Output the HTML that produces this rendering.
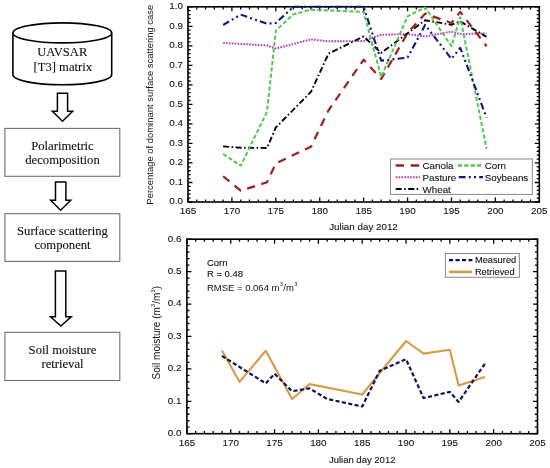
<!DOCTYPE html>
<html><head><meta charset="utf-8"><title>Figure</title>
<style>html,body{margin:0;padding:0;background:#fff;}body{width:550px;height:468px;overflow:hidden;}svg{display:block;will-change:transform;}</style>
</head><body>
<svg width="550" height="468" viewBox="0 0 550 468">
<rect width="550" height="468" fill="#fff"/>
<path d="M12.899999999999999,32.9 L12.899999999999999,74.8 A49.4,10.0 0 0 0 111.69999999999999,74.8 L111.69999999999999,32.9" fill="#fff" stroke="#000" stroke-width="1.6"/>
<ellipse cx="62.3" cy="32.9" rx="49.4" ry="10.0" fill="#fff" stroke="#000" stroke-width="1.6"/>
<text x="62.3" y="55.5" font-family='"Liberation Serif", serif' font-size="12.6" fill="#111" stroke="#111" stroke-width="0.12" text-anchor="middle">UAVSAR</text>
<text x="62.8" y="70.5" font-family='"Liberation Serif", serif' font-size="12.6" fill="#111" stroke="#111" stroke-width="0.12" text-anchor="middle">[T3] matrix</text>
<path d="M57.4,93.2 L67.6,93.2 L67.6,111.2 L72.7,111.2 L62.5,121.3 L52.3,111.2 L57.4,111.2 Z" fill="#fff" stroke="#000" stroke-width="1.5" stroke-linejoin="miter"/>
<path d="M55.5,182.0 L65.9,182.0 L65.9,200.3 L70.7,200.3 L60.650000000000006,210.2 L50.6,200.3 L55.5,200.3 Z" fill="#fff" stroke="#000" stroke-width="1.5" stroke-linejoin="miter"/>
<path d="M55.4,271.1 L65.8,271.1 L65.8,316.7 L71.2,316.7 L60.85,326.1 L50.5,316.7 L55.4,316.7 Z" fill="#fff" stroke="#000" stroke-width="1.5" stroke-linejoin="miter"/>
<rect x="4.9" y="128.4" width="114.9" height="47.900000000000006" fill="#fff" stroke="#707070" stroke-width="1.1"/>
<text x="62.5" y="149.5" font-family='"Liberation Serif", serif' font-size="12.65" fill="#111" stroke="#111" stroke-width="0.12" text-anchor="middle">Polarimetric</text>
<text x="62.5" y="163.8" font-family='"Liberation Serif", serif' font-size="12.65" fill="#111" stroke="#111" stroke-width="0.12" text-anchor="middle">decomposition</text>
<rect x="4.9" y="213.7" width="114.9" height="47.69999999999999" fill="#fff" stroke="#707070" stroke-width="1.1"/>
<text x="62.5" y="234.8" font-family='"Liberation Serif", serif' font-size="12.65" fill="#111" stroke="#111" stroke-width="0.12" text-anchor="middle">Surface scattering</text>
<text x="62.5" y="249.2" font-family='"Liberation Serif", serif' font-size="12.65" fill="#111" stroke="#111" stroke-width="0.12" text-anchor="middle">component</text>
<rect x="4.9" y="332.3" width="114.9" height="48.19999999999999" fill="#fff" stroke="#707070" stroke-width="1.1"/>
<text x="62.5" y="353.5" font-family='"Liberation Serif", serif' font-size="12.65" fill="#111" stroke="#111" stroke-width="0.12" text-anchor="middle">Soil moisture</text>
<text x="62.5" y="368.0" font-family='"Liberation Serif", serif' font-size="12.65" fill="#111" stroke="#111" stroke-width="0.12" text-anchor="middle">retrieval</text>
<rect x="188.0" y="6.8" width="351.29999999999995" height="195.2" fill="none" stroke="#000" stroke-width="1.6"/>
<path d="M188.00,202.0 v-4.5 M188.00,6.8 v4.5 M196.78,202.0 v-2.6 M196.78,6.8 v2.6 M205.56,202.0 v-2.6 M205.56,6.8 v2.6 M214.35,202.0 v-2.6 M214.35,6.8 v2.6 M223.13,202.0 v-2.6 M223.13,6.8 v2.6 M231.91,202.0 v-4.5 M231.91,6.8 v4.5 M240.69,202.0 v-2.6 M240.69,6.8 v2.6 M249.48,202.0 v-2.6 M249.48,6.8 v2.6 M258.26,202.0 v-2.6 M258.26,6.8 v2.6 M267.04,202.0 v-2.6 M267.04,6.8 v2.6 M275.82,202.0 v-4.5 M275.82,6.8 v4.5 M284.61,202.0 v-2.6 M284.61,6.8 v2.6 M293.39,202.0 v-2.6 M293.39,6.8 v2.6 M302.17,202.0 v-2.6 M302.17,6.8 v2.6 M310.95,202.0 v-2.6 M310.95,6.8 v2.6 M319.74,202.0 v-4.5 M319.74,6.8 v4.5 M328.52,202.0 v-2.6 M328.52,6.8 v2.6 M337.30,202.0 v-2.6 M337.30,6.8 v2.6 M346.08,202.0 v-2.6 M346.08,6.8 v2.6 M354.87,202.0 v-2.6 M354.87,6.8 v2.6 M363.65,202.0 v-4.5 M363.65,6.8 v4.5 M372.43,202.0 v-2.6 M372.43,6.8 v2.6 M381.21,202.0 v-2.6 M381.21,6.8 v2.6 M390.00,202.0 v-2.6 M390.00,6.8 v2.6 M398.78,202.0 v-2.6 M398.78,6.8 v2.6 M407.56,202.0 v-4.5 M407.56,6.8 v4.5 M416.34,202.0 v-2.6 M416.34,6.8 v2.6 M425.13,202.0 v-2.6 M425.13,6.8 v2.6 M433.91,202.0 v-2.6 M433.91,6.8 v2.6 M442.69,202.0 v-2.6 M442.69,6.8 v2.6 M451.47,202.0 v-4.5 M451.47,6.8 v4.5 M460.26,202.0 v-2.6 M460.26,6.8 v2.6 M469.04,202.0 v-2.6 M469.04,6.8 v2.6 M477.82,202.0 v-2.6 M477.82,6.8 v2.6 M486.60,202.0 v-2.6 M486.60,6.8 v2.6 M495.39,202.0 v-4.5 M495.39,6.8 v4.5 M504.17,202.0 v-2.6 M504.17,6.8 v2.6 M512.95,202.0 v-2.6 M512.95,6.8 v2.6 M521.73,202.0 v-2.6 M521.73,6.8 v2.6 M530.52,202.0 v-2.6 M530.52,6.8 v2.6 M539.30,202.0 v-4.5 M539.30,6.8 v4.5 M188.0,202.00 h4.5 M539.3,202.00 h-4.5 M188.0,198.10 h2.6 M539.3,198.10 h-2.6 M188.0,194.19 h2.6 M539.3,194.19 h-2.6 M188.0,190.29 h2.6 M539.3,190.29 h-2.6 M188.0,186.38 h2.6 M539.3,186.38 h-2.6 M188.0,182.48 h4.5 M539.3,182.48 h-4.5 M188.0,178.58 h2.6 M539.3,178.58 h-2.6 M188.0,174.67 h2.6 M539.3,174.67 h-2.6 M188.0,170.77 h2.6 M539.3,170.77 h-2.6 M188.0,166.86 h2.6 M539.3,166.86 h-2.6 M188.0,162.96 h4.5 M539.3,162.96 h-4.5 M188.0,159.06 h2.6 M539.3,159.06 h-2.6 M188.0,155.15 h2.6 M539.3,155.15 h-2.6 M188.0,151.25 h2.6 M539.3,151.25 h-2.6 M188.0,147.34 h2.6 M539.3,147.34 h-2.6 M188.0,143.44 h4.5 M539.3,143.44 h-4.5 M188.0,139.54 h2.6 M539.3,139.54 h-2.6 M188.0,135.63 h2.6 M539.3,135.63 h-2.6 M188.0,131.73 h2.6 M539.3,131.73 h-2.6 M188.0,127.82 h2.6 M539.3,127.82 h-2.6 M188.0,123.92 h4.5 M539.3,123.92 h-4.5 M188.0,120.02 h2.6 M539.3,120.02 h-2.6 M188.0,116.11 h2.6 M539.3,116.11 h-2.6 M188.0,112.21 h2.6 M539.3,112.21 h-2.6 M188.0,108.30 h2.6 M539.3,108.30 h-2.6 M188.0,104.40 h4.5 M539.3,104.40 h-4.5 M188.0,100.50 h2.6 M539.3,100.50 h-2.6 M188.0,96.59 h2.6 M539.3,96.59 h-2.6 M188.0,92.69 h2.6 M539.3,92.69 h-2.6 M188.0,88.78 h2.6 M539.3,88.78 h-2.6 M188.0,84.88 h4.5 M539.3,84.88 h-4.5 M188.0,80.98 h2.6 M539.3,80.98 h-2.6 M188.0,77.07 h2.6 M539.3,77.07 h-2.6 M188.0,73.17 h2.6 M539.3,73.17 h-2.6 M188.0,69.26 h2.6 M539.3,69.26 h-2.6 M188.0,65.36 h4.5 M539.3,65.36 h-4.5 M188.0,61.46 h2.6 M539.3,61.46 h-2.6 M188.0,57.55 h2.6 M539.3,57.55 h-2.6 M188.0,53.65 h2.6 M539.3,53.65 h-2.6 M188.0,49.74 h2.6 M539.3,49.74 h-2.6 M188.0,45.84 h4.5 M539.3,45.84 h-4.5 M188.0,41.94 h2.6 M539.3,41.94 h-2.6 M188.0,38.03 h2.6 M539.3,38.03 h-2.6 M188.0,34.13 h2.6 M539.3,34.13 h-2.6 M188.0,30.22 h2.6 M539.3,30.22 h-2.6 M188.0,26.32 h4.5 M539.3,26.32 h-4.5 M188.0,22.42 h2.6 M539.3,22.42 h-2.6 M188.0,18.51 h2.6 M539.3,18.51 h-2.6 M188.0,14.61 h2.6 M539.3,14.61 h-2.6 M188.0,10.70 h2.6 M539.3,10.70 h-2.6 M188.0,6.80 h4.5 M539.3,6.80 h-4.5" stroke="#000" stroke-width="1.3" fill="none"/>
<text x="183.0" y="204.3" font-family='"Liberation Sans", sans-serif' font-size="9.9" fill="#111" stroke="#111" stroke-width="0.1" text-anchor="end" >0.0</text>
<text x="183.0" y="184.78" font-family='"Liberation Sans", sans-serif' font-size="9.9" fill="#111" stroke="#111" stroke-width="0.1" text-anchor="end" >0.1</text>
<text x="183.0" y="165.26000000000002" font-family='"Liberation Sans", sans-serif' font-size="9.9" fill="#111" stroke="#111" stroke-width="0.1" text-anchor="end" >0.2</text>
<text x="183.0" y="145.74" font-family='"Liberation Sans", sans-serif' font-size="9.9" fill="#111" stroke="#111" stroke-width="0.1" text-anchor="end" >0.3</text>
<text x="183.0" y="126.22" font-family='"Liberation Sans", sans-serif' font-size="9.9" fill="#111" stroke="#111" stroke-width="0.1" text-anchor="end" >0.4</text>
<text x="183.0" y="106.7" font-family='"Liberation Sans", sans-serif' font-size="9.9" fill="#111" stroke="#111" stroke-width="0.1" text-anchor="end" >0.5</text>
<text x="183.0" y="87.18" font-family='"Liberation Sans", sans-serif' font-size="9.9" fill="#111" stroke="#111" stroke-width="0.1" text-anchor="end" >0.6</text>
<text x="183.0" y="67.66000000000001" font-family='"Liberation Sans", sans-serif' font-size="9.9" fill="#111" stroke="#111" stroke-width="0.1" text-anchor="end" >0.7</text>
<text x="183.0" y="48.14" font-family='"Liberation Sans", sans-serif' font-size="9.9" fill="#111" stroke="#111" stroke-width="0.1" text-anchor="end" >0.8</text>
<text x="183.0" y="28.619999999999994" font-family='"Liberation Sans", sans-serif' font-size="9.9" fill="#111" stroke="#111" stroke-width="0.1" text-anchor="end" >0.9</text>
<text x="183.0" y="9.100000000000012" font-family='"Liberation Sans", sans-serif' font-size="9.9" fill="#111" stroke="#111" stroke-width="0.1" text-anchor="end" >1.0</text>
<text x="188.0" y="214.4" font-family='"Liberation Sans", sans-serif' font-size="9.9" fill="#111" stroke="#111" stroke-width="0.1" text-anchor="middle" >165</text>
<text x="231.9125" y="214.4" font-family='"Liberation Sans", sans-serif' font-size="9.9" fill="#111" stroke="#111" stroke-width="0.1" text-anchor="middle" >170</text>
<text x="275.825" y="214.4" font-family='"Liberation Sans", sans-serif' font-size="9.9" fill="#111" stroke="#111" stroke-width="0.1" text-anchor="middle" >175</text>
<text x="319.73749999999995" y="214.4" font-family='"Liberation Sans", sans-serif' font-size="9.9" fill="#111" stroke="#111" stroke-width="0.1" text-anchor="middle" >180</text>
<text x="363.65" y="214.4" font-family='"Liberation Sans", sans-serif' font-size="9.9" fill="#111" stroke="#111" stroke-width="0.1" text-anchor="middle" >185</text>
<text x="407.56249999999994" y="214.4" font-family='"Liberation Sans", sans-serif' font-size="9.9" fill="#111" stroke="#111" stroke-width="0.1" text-anchor="middle" >190</text>
<text x="451.47499999999997" y="214.4" font-family='"Liberation Sans", sans-serif' font-size="9.9" fill="#111" stroke="#111" stroke-width="0.1" text-anchor="middle" >195</text>
<text x="495.38749999999993" y="214.4" font-family='"Liberation Sans", sans-serif' font-size="9.9" fill="#111" stroke="#111" stroke-width="0.1" text-anchor="middle" >200</text>
<text x="539.3" y="214.4" font-family='"Liberation Sans", sans-serif' font-size="9.9" fill="#111" stroke="#111" stroke-width="0.1" text-anchor="middle" >205</text>
<text x="363.5" y="229.6" font-family='"Liberation Sans", sans-serif' font-size="9.8" fill="#111" stroke="#111" stroke-width="0.1" text-anchor="middle" >Julian day 2012</text>
<text transform="translate(152.9,104.7) rotate(-90)" font-family='"Liberation Sans", sans-serif' font-size="9.45" fill="#111" text-anchor="middle">Percentage of dominant surface scattering case</text>
<polyline points="223.13,42.91 267.04,45.45 275.82,48.57 310.95,39.40 328.52,41.35 363.65,40.96 381.21,34.71 407.56,34.13 425.13,36.47 451.47,31.59 460.26,34.13 486.60,33.35" fill="none" stroke="#bb2dbb" stroke-width="1.9" stroke-dasharray="1.6 1.3" stroke-linejoin="round" />
<polyline points="223.13,146.37 240.69,147.73 267.04,147.93 275.82,127.43 310.95,91.91 328.52,53.65 363.65,36.47 381.21,52.87 425.13,20.27 451.47,24.76 460.26,21.44 486.60,36.86" fill="none" stroke="#000" stroke-width="1.9" stroke-dasharray="6 2.5 1.5 2.5" stroke-linejoin="round" />
<polyline points="223.13,176.23 240.69,190.68 267.04,182.28 275.82,163.35 310.95,146.76 328.52,110.26 363.65,59.70 381.21,79.02 407.56,33.15 425.13,13.63 451.47,23.00 460.26,11.88 486.60,46.23" fill="none" stroke="#a01e1e" stroke-width="2.2" stroke-dasharray="8.2 6.6" stroke-linejoin="round" />
<polyline points="223.13,153.98 240.69,165.69 267.04,111.62 275.82,30.61 293.39,14.22 310.95,9.73 363.65,11.88 381.21,77.07 407.56,16.36 425.13,7.39 451.47,46.23 460.26,17.15 486.60,148.91" fill="none" stroke="#50c850" stroke-width="2.0" stroke-dasharray="4.2 2.2" stroke-linejoin="round" />
<polyline points="223.13,24.95 240.69,14.61 267.04,23.78 275.82,23.00 293.39,6.80 363.65,6.80 381.21,60.68 407.56,57.55 425.13,24.95 451.47,58.92 460.26,47.79 486.60,117.67" fill="none" stroke="#141480" stroke-width="2.1" stroke-dasharray="6.8 3.2 2 3.2 2 3.2" stroke-linejoin="round" />
<rect x="390.5" y="159" width="141.8" height="35.4" fill="#fff" stroke="#888" stroke-width="1"/>
<line x1="395.7" y1="165.5" x2="419.9" y2="165.5" stroke="#a01e1e" stroke-width="2.5" stroke-dasharray="8.4 6.6"/>
<text x="422.5" y="169.0" font-family='"Liberation Sans", sans-serif' font-size="9.8" fill="#111" stroke="#111" stroke-width="0.1" text-anchor="start" >Canola</text>
<line x1="395.7" y1="177.2" x2="419.9" y2="177.2" stroke="#bb2dbb" stroke-width="2.0" stroke-dasharray="1.6 1.3"/>
<text x="422.5" y="180.7" font-family='"Liberation Sans", sans-serif' font-size="9.8" fill="#111" stroke="#111" stroke-width="0.1" text-anchor="start" >Pasture</text>
<line x1="395.7" y1="189.0" x2="419.9" y2="189.0" stroke="#000" stroke-width="2.0" stroke-dasharray="6 2.5 1.5 2.5"/>
<text x="422.5" y="192.5" font-family='"Liberation Sans", sans-serif' font-size="9.8" fill="#111" stroke="#111" stroke-width="0.1" text-anchor="start" >Wheat</text>
<line x1="457.8" y1="165.5" x2="482.0" y2="165.5" stroke="#50c850" stroke-width="2.3" stroke-dasharray="4.2 2.2"/>
<text x="484.7" y="169.0" font-family='"Liberation Sans", sans-serif' font-size="9.8" fill="#111" stroke="#111" stroke-width="0.1" text-anchor="start" >Corn</text>
<line x1="458.8" y1="177.2" x2="483.0" y2="177.2" stroke="#141480" stroke-width="2.3" stroke-dasharray="6.8 3.2 2 3.2 2 3.2"/>
<text x="484.7" y="180.7" font-family='"Liberation Sans", sans-serif' font-size="9.8" fill="#111" stroke="#111" stroke-width="0.1" text-anchor="start" >Soybeans</text>
<rect x="186.9" y="239.2" width="350.6" height="194.5" fill="none" stroke="#000" stroke-width="1.6"/>
<path d="M186.90,433.7 v-4.5 M186.90,239.2 v4.5 M195.67,433.7 v-2.6 M195.67,239.2 v2.6 M204.43,433.7 v-2.6 M204.43,239.2 v2.6 M213.20,433.7 v-2.6 M213.20,239.2 v2.6 M221.96,433.7 v-2.6 M221.96,239.2 v2.6 M230.73,433.7 v-4.5 M230.73,239.2 v4.5 M239.49,433.7 v-2.6 M239.49,239.2 v2.6 M248.25,433.7 v-2.6 M248.25,239.2 v2.6 M257.02,433.7 v-2.6 M257.02,239.2 v2.6 M265.79,433.7 v-2.6 M265.79,239.2 v2.6 M274.55,433.7 v-4.5 M274.55,239.2 v4.5 M283.31,433.7 v-2.6 M283.31,239.2 v2.6 M292.08,433.7 v-2.6 M292.08,239.2 v2.6 M300.85,433.7 v-2.6 M300.85,239.2 v2.6 M309.61,433.7 v-2.6 M309.61,239.2 v2.6 M318.38,433.7 v-4.5 M318.38,239.2 v4.5 M327.14,433.7 v-2.6 M327.14,239.2 v2.6 M335.91,433.7 v-2.6 M335.91,239.2 v2.6 M344.67,433.7 v-2.6 M344.67,239.2 v2.6 M353.44,433.7 v-2.6 M353.44,239.2 v2.6 M362.20,433.7 v-4.5 M362.20,239.2 v4.5 M370.97,433.7 v-2.6 M370.97,239.2 v2.6 M379.73,433.7 v-2.6 M379.73,239.2 v2.6 M388.50,433.7 v-2.6 M388.50,239.2 v2.6 M397.26,433.7 v-2.6 M397.26,239.2 v2.6 M406.02,433.7 v-4.5 M406.02,239.2 v4.5 M414.79,433.7 v-2.6 M414.79,239.2 v2.6 M423.56,433.7 v-2.6 M423.56,239.2 v2.6 M432.32,433.7 v-2.6 M432.32,239.2 v2.6 M441.09,433.7 v-2.6 M441.09,239.2 v2.6 M449.85,433.7 v-4.5 M449.85,239.2 v4.5 M458.62,433.7 v-2.6 M458.62,239.2 v2.6 M467.38,433.7 v-2.6 M467.38,239.2 v2.6 M476.14,433.7 v-2.6 M476.14,239.2 v2.6 M484.91,433.7 v-2.6 M484.91,239.2 v2.6 M493.67,433.7 v-4.5 M493.67,239.2 v4.5 M502.44,433.7 v-2.6 M502.44,239.2 v2.6 M511.21,433.7 v-2.6 M511.21,239.2 v2.6 M519.97,433.7 v-2.6 M519.97,239.2 v2.6 M528.74,433.7 v-2.6 M528.74,239.2 v2.6 M537.50,433.7 v-4.5 M537.50,239.2 v4.5 M186.9,433.70 h4.5 M537.5,433.70 h-4.5 M186.9,427.22 h2.6 M537.5,427.22 h-2.6 M186.9,420.73 h2.6 M537.5,420.73 h-2.6 M186.9,414.25 h2.6 M537.5,414.25 h-2.6 M186.9,407.77 h2.6 M537.5,407.77 h-2.6 M186.9,401.28 h4.5 M537.5,401.28 h-4.5 M186.9,394.80 h2.6 M537.5,394.80 h-2.6 M186.9,388.32 h2.6 M537.5,388.32 h-2.6 M186.9,381.83 h2.6 M537.5,381.83 h-2.6 M186.9,375.35 h2.6 M537.5,375.35 h-2.6 M186.9,368.87 h4.5 M537.5,368.87 h-4.5 M186.9,362.38 h2.6 M537.5,362.38 h-2.6 M186.9,355.90 h2.6 M537.5,355.90 h-2.6 M186.9,349.42 h2.6 M537.5,349.42 h-2.6 M186.9,342.93 h2.6 M537.5,342.93 h-2.6 M186.9,336.45 h4.5 M537.5,336.45 h-4.5 M186.9,329.97 h2.6 M537.5,329.97 h-2.6 M186.9,323.48 h2.6 M537.5,323.48 h-2.6 M186.9,317.00 h2.6 M537.5,317.00 h-2.6 M186.9,310.52 h2.6 M537.5,310.52 h-2.6 M186.9,304.03 h4.5 M537.5,304.03 h-4.5 M186.9,297.55 h2.6 M537.5,297.55 h-2.6 M186.9,291.07 h2.6 M537.5,291.07 h-2.6 M186.9,284.58 h2.6 M537.5,284.58 h-2.6 M186.9,278.10 h2.6 M537.5,278.10 h-2.6 M186.9,271.62 h4.5 M537.5,271.62 h-4.5 M186.9,265.13 h2.6 M537.5,265.13 h-2.6 M186.9,258.65 h2.6 M537.5,258.65 h-2.6 M186.9,252.17 h2.6 M537.5,252.17 h-2.6 M186.9,245.68 h2.6 M537.5,245.68 h-2.6 M186.9,239.20 h4.5 M537.5,239.20 h-4.5" stroke="#000" stroke-width="1.3" fill="none"/>
<text x="181.6" y="436.0" font-family='"Liberation Sans", sans-serif' font-size="9.9" fill="#111" stroke="#111" stroke-width="0.1" text-anchor="end" >0.0</text>
<text x="181.6" y="403.5833333333333" font-family='"Liberation Sans", sans-serif' font-size="9.9" fill="#111" stroke="#111" stroke-width="0.1" text-anchor="end" >0.1</text>
<text x="181.6" y="371.1666666666667" font-family='"Liberation Sans", sans-serif' font-size="9.9" fill="#111" stroke="#111" stroke-width="0.1" text-anchor="end" >0.2</text>
<text x="181.6" y="338.75" font-family='"Liberation Sans", sans-serif' font-size="9.9" fill="#111" stroke="#111" stroke-width="0.1" text-anchor="end" >0.3</text>
<text x="181.6" y="306.3333333333333" font-family='"Liberation Sans", sans-serif' font-size="9.9" fill="#111" stroke="#111" stroke-width="0.1" text-anchor="end" >0.4</text>
<text x="181.6" y="273.9166666666667" font-family='"Liberation Sans", sans-serif' font-size="9.9" fill="#111" stroke="#111" stroke-width="0.1" text-anchor="end" >0.5</text>
<text x="181.6" y="241.5" font-family='"Liberation Sans", sans-serif' font-size="9.9" fill="#111" stroke="#111" stroke-width="0.1" text-anchor="end" >0.6</text>
<text x="186.9" y="445.9" font-family='"Liberation Sans", sans-serif' font-size="9.9" fill="#111" stroke="#111" stroke-width="0.1" text-anchor="middle" >165</text>
<text x="230.72500000000002" y="445.9" font-family='"Liberation Sans", sans-serif' font-size="9.9" fill="#111" stroke="#111" stroke-width="0.1" text-anchor="middle" >170</text>
<text x="274.55" y="445.9" font-family='"Liberation Sans", sans-serif' font-size="9.9" fill="#111" stroke="#111" stroke-width="0.1" text-anchor="middle" >175</text>
<text x="318.375" y="445.9" font-family='"Liberation Sans", sans-serif' font-size="9.9" fill="#111" stroke="#111" stroke-width="0.1" text-anchor="middle" >180</text>
<text x="362.20000000000005" y="445.9" font-family='"Liberation Sans", sans-serif' font-size="9.9" fill="#111" stroke="#111" stroke-width="0.1" text-anchor="middle" >185</text>
<text x="406.025" y="445.9" font-family='"Liberation Sans", sans-serif' font-size="9.9" fill="#111" stroke="#111" stroke-width="0.1" text-anchor="middle" >190</text>
<text x="449.85" y="445.9" font-family='"Liberation Sans", sans-serif' font-size="9.9" fill="#111" stroke="#111" stroke-width="0.1" text-anchor="middle" >195</text>
<text x="493.67499999999995" y="445.9" font-family='"Liberation Sans", sans-serif' font-size="9.9" fill="#111" stroke="#111" stroke-width="0.1" text-anchor="middle" >200</text>
<text x="537.5" y="445.9" font-family='"Liberation Sans", sans-serif' font-size="9.9" fill="#111" stroke="#111" stroke-width="0.1" text-anchor="middle" >205</text>
<text x="362.2" y="462.5" font-family='"Liberation Sans", sans-serif' font-size="9.5" fill="#111" stroke="#111" stroke-width="0.1" text-anchor="middle" >Julian day 2012</text>
<text transform="translate(160.0,332.7) rotate(-90)" font-family='"Liberation Sans", sans-serif' font-size="10" fill="#111" text-anchor="middle">Soil moisture (m<tspan font-size="5.5" dy="-5" dx="0.2">3</tspan><tspan dy="5" dx="0.2">/m</tspan><tspan font-size="5.5" dy="-5" dx="0.2">3</tspan><tspan dy="5">)</tspan></text>
<text x="206.9" y="265.5" font-family='"Liberation Sans", sans-serif' font-size="9.5" fill="#111" stroke="#111" stroke-width="0.1" text-anchor="start" >Corn</text>
<text x="206.9" y="277.2" font-family='"Liberation Sans", sans-serif' font-size="9.5" fill="#111" stroke="#111" stroke-width="0.1" text-anchor="start" >R = 0.48</text>
<text x="206.9" y="291" font-family='"Liberation Sans", sans-serif' font-size="9.5" fill="#111">RMSE = 0.064 m<tspan font-size="5.5" dy="-4.8" dx="0.3">3</tspan><tspan dy="4.8" dx="0.4">/m</tspan><tspan font-size="5.5" dy="-4.8" dx="0.3">3</tspan></text>
<polyline points="221.96,350.39 239.49,381.83 265.79,350.71 292.08,399.01 309.61,384.10 362.20,394.48 406.02,340.99 423.56,353.63 449.85,349.74 458.62,385.40 484.91,376.97" fill="none" stroke="#d99a45" stroke-width="2.1"  stroke-linejoin="round" />
<polyline points="221.96,355.90 265.79,383.45 274.55,373.73 292.08,391.23 309.61,388.32 327.14,399.01 362.20,406.47 379.73,370.81 406.02,359.14 423.56,398.04 449.85,391.88 458.62,401.93 484.91,363.68" fill="none" stroke="#10105a" stroke-width="2.2" stroke-dasharray="4.1 2.4" stroke-linejoin="round" />
<rect x="445.4" y="253.5" width="74" height="23.8" fill="#fff" stroke="#888" stroke-width="1"/>
<line x1="449" y1="260.1" x2="472.4" y2="260.1" stroke="#10105a" stroke-width="2.3" stroke-dasharray="4.1 2.4"/>
<line x1="449" y1="271.9" x2="472" y2="271.9" stroke="#d99a45" stroke-width="2.6"/>
<text x="474.9" y="262.9" font-family='"Liberation Sans", sans-serif' font-size="9.3" fill="#111" stroke="#111" stroke-width="0.1" text-anchor="start" >Measured</text>
<text x="474.9" y="274.5" font-family='"Liberation Sans", sans-serif' font-size="9.3" fill="#111" stroke="#111" stroke-width="0.1" text-anchor="start" >Retrieved</text>
</svg>
</body></html>
